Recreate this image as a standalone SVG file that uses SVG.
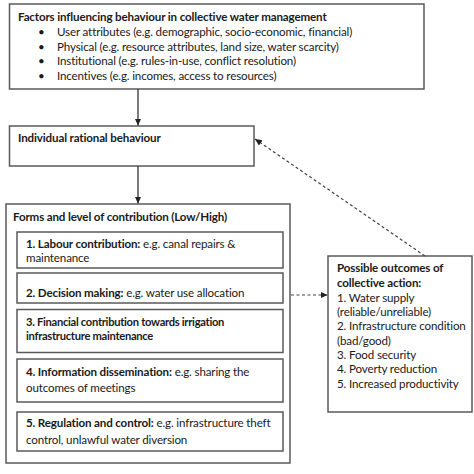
<svg xmlns="http://www.w3.org/2000/svg" width="474" height="474" viewBox="0 0 474 474">
<style>
.box{fill:#fff;stroke:#5a5a5a;stroke-width:1.5}
text{font-family:Lato,"Open Sans","Liberation Sans",sans-serif;font-size:11.6px;letter-spacing:-0.15px;fill:#1a1a1a}
.b{font-weight:bold}
.nb{font-size:11.2px;letter-spacing:-0.3px}
.sol{stroke:#333;stroke-width:1.3;fill:none}
.dash{stroke:#444;stroke-width:1.2;fill:none;stroke-dasharray:3 2.5}
</style>
<defs>
<marker id="ah" markerWidth="8" markerHeight="8" refX="7" refY="4" orient="auto" markerUnits="userSpaceOnUse">
<path d="M0,0.8 L7,4 L0,7.2 Z" fill="#222"/>
</marker>
</defs>
<rect width="474" height="474" fill="#fff"/>
<g id="factors">
<rect class="box" x="9.5" y="4" width="414.5" height="85"/>
<text class="b" x="18" y="20.5">Factors influencing behaviour in collective water management</text>
<text x="38" y="36">•</text><text x="57" y="36">User attributes (e.g. demographic, socio-economic, financial)</text>
<text x="38" y="50.5">•</text><text x="57" y="50.5">Physical (e.g. resource attributes, land size, water scarcity)</text>
<text x="38" y="65">•</text><text x="57" y="65">Institutional (e.g. rules-in-use, conflict resolution)</text>
<text x="38" y="79.5">•</text><text x="57" y="79.5">Incentives (e.g. incomes, access to resources)</text>
</g>
<g id="individual">
<rect class="box" x="9.5" y="126" width="244.5" height="40"/>
<text class="b" x="18" y="142">Individual rational behaviour</text>
</g>
<g id="forms">
<rect class="box" x="6" y="204" width="284" height="259"/>
<text class="b" x="13" y="221">Forms and level of contribution (Low/High)</text>
<g id="c1">
<rect class="box" x="17" y="232" width="266" height="36"/>
<text x="26" y="248"><tspan class="b">1. Labour contribution:</tspan> e.g. canal repairs &amp;</text>
<text x="26" y="262">maintenance</text>
</g>
<g id="c2">
<rect class="box" x="17" y="273" width="266" height="30"/>
<text x="26" y="296.5"><tspan class="b">2. Decision making:</tspan> e.g. water use allocation</text>
</g>
<g id="c3">
<rect class="box" x="17" y="309.5" width="266" height="43"/>
<text class="b nb" x="26" y="326">3. Financial contribution towards irrigation</text>
<text class="b nb" x="26" y="340">infrastructure maintenance</text>
</g>
<g id="c4">
<rect class="box" x="17" y="359" width="266" height="43"/>
<text x="26" y="376"><tspan class="b">4. Information dissemination:</tspan> e.g. sharing the</text>
<text x="26" y="392">outcomes of meetings</text>
</g>
<g id="c5">
<rect class="box" x="17" y="412" width="266" height="39"/>
<text x="26" y="427"><tspan class="b">5. Regulation and control:</tspan> e.g. infrastructure theft</text>
<text x="26" y="444">control, unlawful water diversion</text>
</g>
</g>
<g id="outcomes">
<rect class="box" x="328" y="256" width="144" height="156"/>
<text class="b" x="337" y="272">Possible outcomes of</text>
<text class="b" x="337" y="287">collective action:</text>
<text x="337" y="301.5">1. Water supply</text>
<text x="337" y="316">(reliable/unreliable)</text>
<text x="337" y="330">2. Infrastructure condition</text>
<text x="337" y="344.5">(bad/good)</text>
<text x="337" y="359">3. Food security</text>
<text x="337" y="373">4. Poverty reduction</text>
<text x="337" y="388">5. Increased productivity</text>
</g>
<g id="connectors">
<line class="sol" x1="138" y1="89" x2="138" y2="125.5" marker-end="url(#ah)"/>
<line class="sol" x1="138" y1="166" x2="138" y2="203.5" marker-end="url(#ah)"/>
<line class="dash" x1="291" y1="295" x2="327.5" y2="295" marker-end="url(#ah)"/>
<line class="dash" x1="425" y1="256" x2="255" y2="139" marker-end="url(#ah)"/>
</g>
</svg>
